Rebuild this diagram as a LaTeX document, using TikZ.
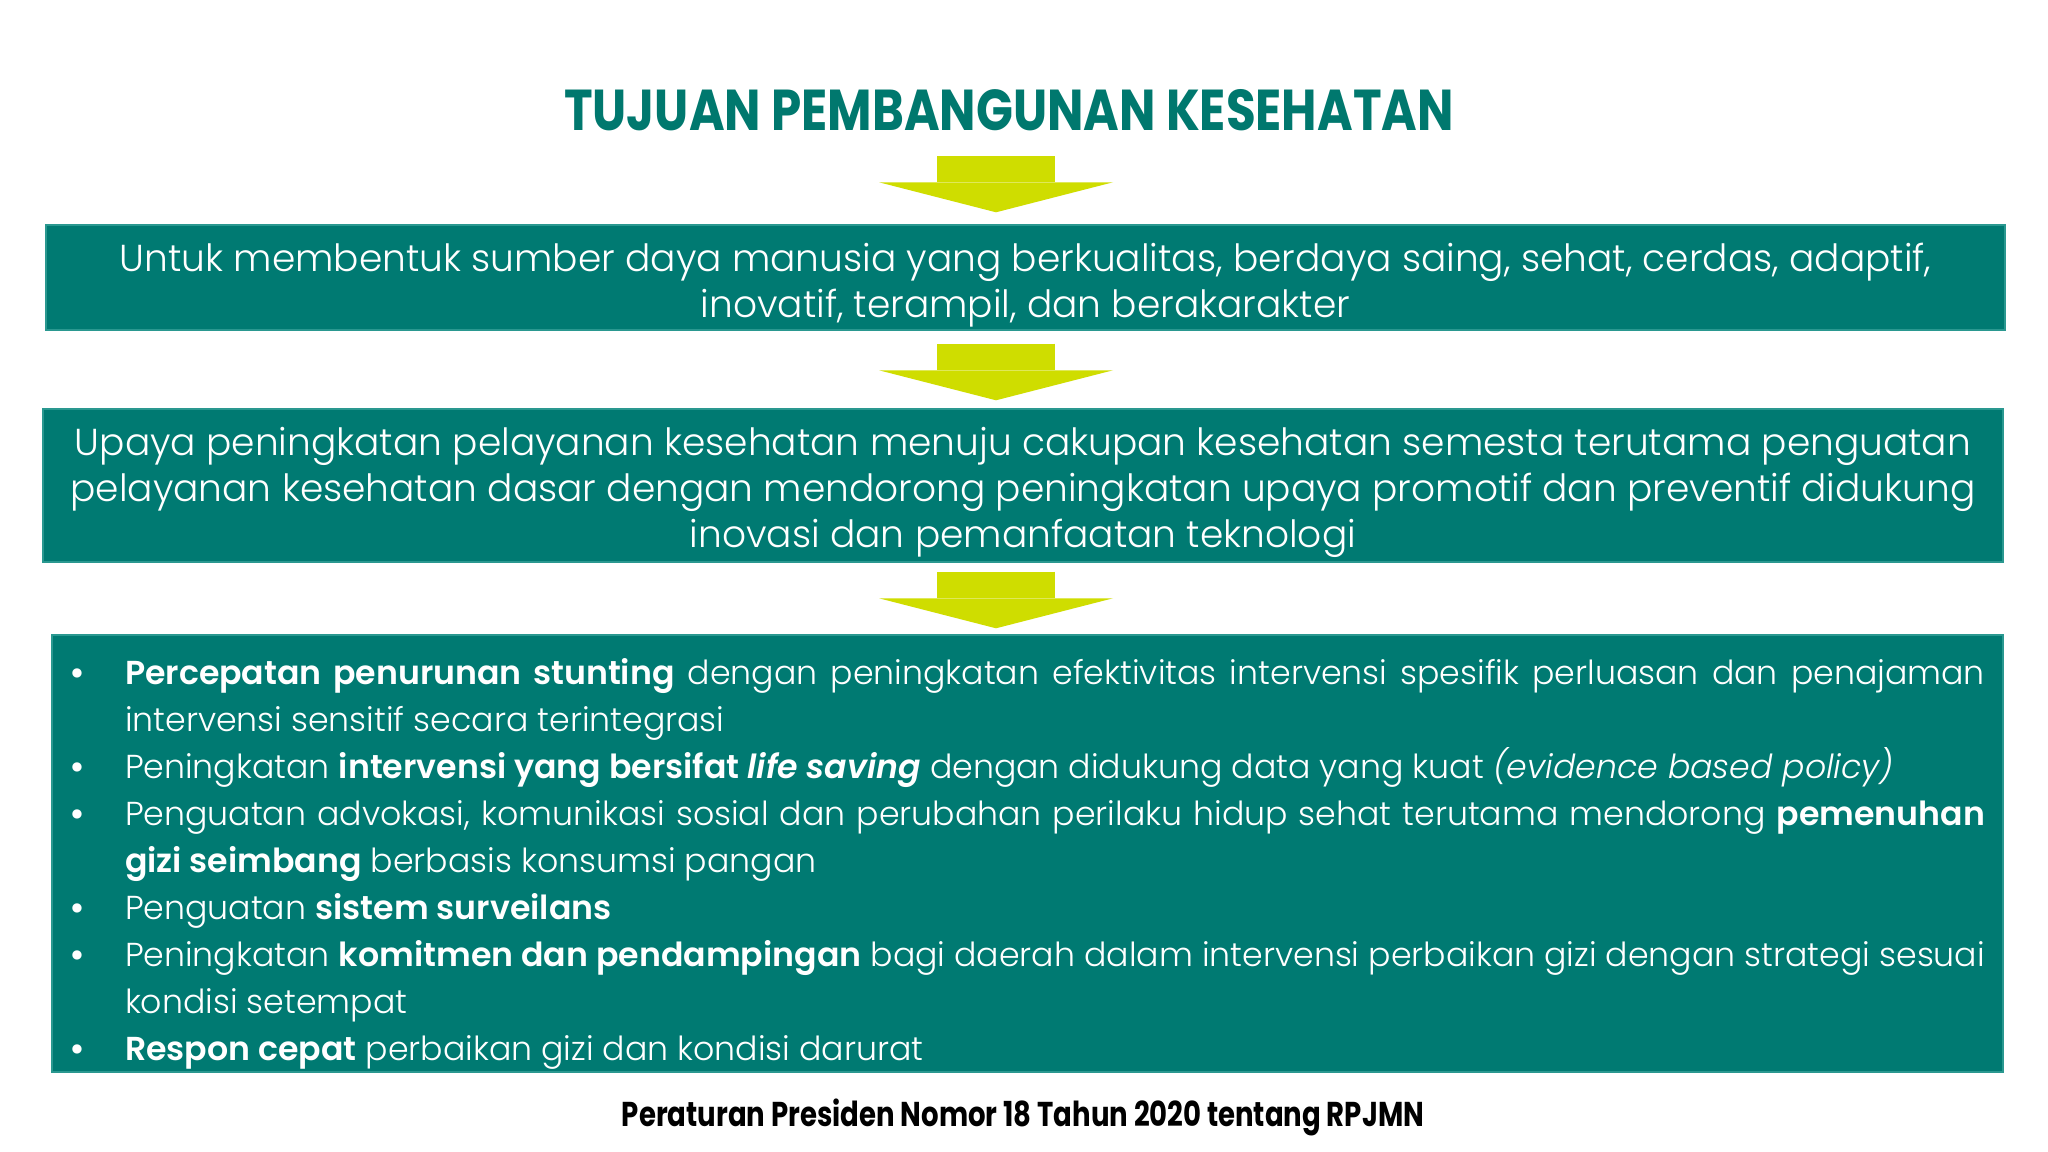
\documentclass[tikz,border=0pt]{standalone}
\usepackage{fontspec}
\usepackage{enumitem}
\usetikzlibrary{arrows.meta}
\IfFontExistsTF{Poppins Light Italic}{%
  \IfFontExistsTF{Poppins SemiBold Italic}{%
    \setmainfont{Poppins Light}[ItalicFont=Poppins Light Italic,BoldFont=Poppins SemiBold,BoldItalicFont=Poppins SemiBold Italic]}{%
    \setmainfont{Poppins}}}{%
  \setmainfont{Poppins}}
\newfontfamily\headfont{Poppins}[FakeStretch=0.84]
\newfontfamily\sourcefont{Poppins}[FakeStretch=0.80]
\definecolor{TealBox}{HTML}{007A72}
\definecolor{TealEdge}{HTML}{2A9890}
\definecolor{TealTitle}{HTML}{00786E}
\definecolor{ArrowGreen}{HTML}{CFDD00}
\tikzset{%
  BoxStyle/.style={fill=TealBox,draw=TealEdge,line width=0.4pt,inner sep=0pt},
  BoxText/.style={text=white,inner sep=0pt,align=center,yshift=-0.8mm,font=\fontsize{10.68}{13.1}\selectfont},
  ArrowStyle/.style={draw=ArrowGreen,line width=11.8mm,-{Triangle[width=23.4mm,length=3mm,line width=0pt]}}
}

\begin{document}
\begin{tikzpicture}
\useasboundingbox[fill=white] (0,0) rectangle (20.48,-11.52);
\coordinate (axis) at (9.96,0);

\node (title) [inner sep=0pt,text=TealTitle,font=\headfont\bfseries\fontsize{16.4}{18}\selectfont] at (10.09,-1.10) {TUJUAN PEMBANGUNAN KESEHATAN};

\node (box1) [BoxStyle,minimum width=19.59cm,minimum height=1.05cm,
  label={[BoxText]center:{Untuk membentuk sumber daya manusia yang berkualitas, berdaya saing, sehat, cerdas, adaptif,\\
   inovatif, terampil, dan berakarakter}}] at (10.255,-2.775) {};
\node (box2) [BoxStyle,minimum width=19.60cm,minimum height=1.53cm,
  label={[BoxText,yshift=0.15mm]center:{Upaya peningkatan pelayanan kesehatan menuju cakupan kesehatan semesta terutama penguatan\\
   pelayanan kesehatan dasar dengan mendorong peningkatan upaya promotif dan preventif didukung\\
   inovasi dan pemanfaatan teknologi}}] at (10.23,-4.855) {};
\node (box3) [BoxStyle,text=white,align=justify,inner xsep=1.8mm,text width=19.15cm,minimum height=4.37cm,font=\fontsize{9.44}{13.4}\selectfont] at (10.275,-8.535) {%
\begin{itemize}[nosep,leftmargin=5.5mm,labelsep=4.0mm,label=\textbf{\textbullet}]
\item \textbf{Percepatan penurunan stunting} dengan peningkatan efektivitas intervensi spesifik perluasan dan penajaman\linebreak intervensi sensitif secara terintegrasi
\item Peningkatan \textbf{intervensi yang bersifat \textit{life saving}} dengan didukung data yang kuat \textit{(evidence based policy)}
\item Penguatan advokasi, komunikasi sosial dan perubahan perilaku hidup sehat terutama mendorong \textbf{pemenuhan\linebreak gizi seimbang} berbasis konsumsi pangan
\item Penguatan \textbf{sistem surveilans}
\item Peningkatan \textbf{komitmen dan pendampingan} bagi daerah dalam intervensi perbaikan gizi dengan strategi sesuai\linebreak kondisi setempat
\item \textbf{Respon cepat} perbaikan gizi dan kondisi darurat
\end{itemize}};

\node (source) [inner sep=0pt,font=\sourcefont\bfseries\fontsize{9.8}{11}\selectfont] at (10.23,-11.17) {Peraturan Presiden Nomor 18 Tahun 2020 tentang RPJMN};

\draw [ArrowStyle,shorten <=2.5mm,shorten >=1.2mm] (title.south -| axis) -- (box1.north -| axis);
\draw [ArrowStyle,shorten <=1.3mm,shorten >=0.8mm] (box1.south -| axis) -- (box2.north -| axis);
\draw [ArrowStyle,shorten <=0.9mm,shorten >=0.6mm] (box2.south -| axis) -- (box3.north -| axis);
\end{tikzpicture}
\end{document}
